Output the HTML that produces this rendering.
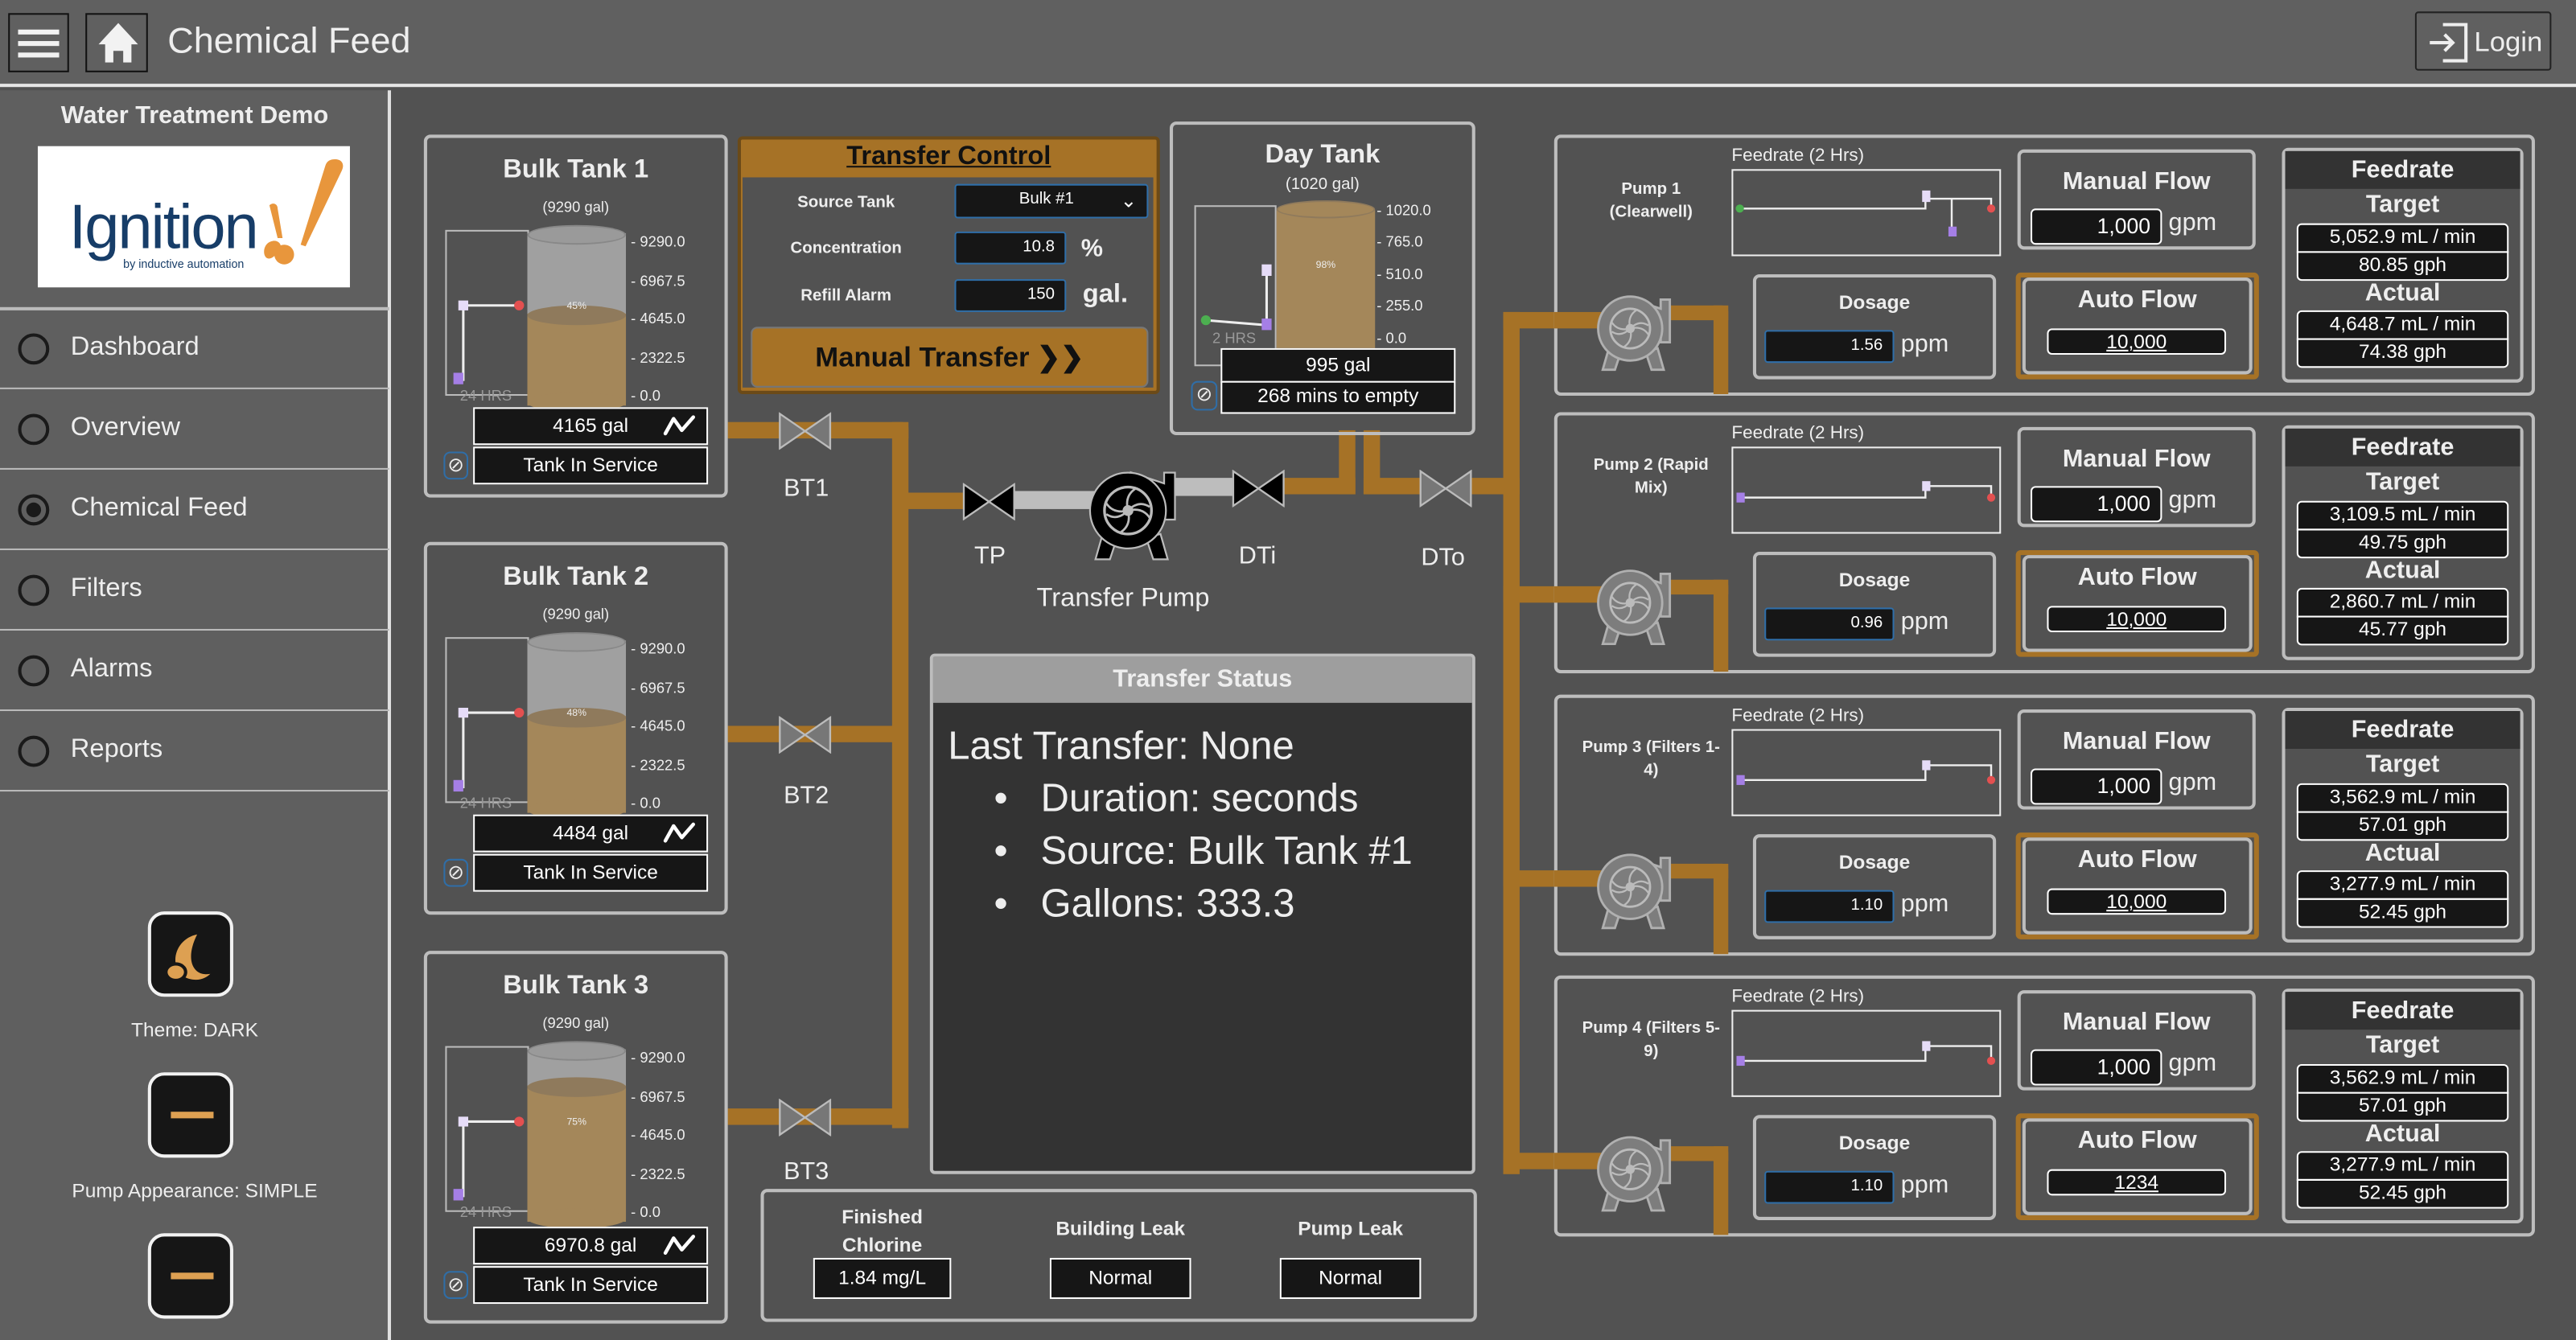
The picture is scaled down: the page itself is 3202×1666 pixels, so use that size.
<!DOCTYPE html>
<html><head><meta charset="utf-8"><style>
*{box-sizing:border-box}
html,body{margin:0;padding:0;width:3202px;height:1666px;overflow:hidden;background:#525252}
#root{position:absolute;left:0;top:0;width:1568px;height:816px;transform-origin:0 0;transform:scale(2.04209,2.04167);font-family:"Liberation Sans",sans-serif;color:#eee;background:#525252}
.a{position:absolute}
.c{text-align:center}
.b{font-weight:bold}
.pipe{position:absolute;background:#a67226}
.gp{position:absolute;background:#bdbdbd}
.panel{position:absolute;border:2px solid #bdbdbd;border-radius:4px}
.box{position:absolute;background:#161616;border:1.5px solid #fff;color:#fff;text-align:center}
.inp{position:absolute;background:#161616;border:1.5px solid #2f6ea8;border-radius:2px;color:#fff;text-align:right;padding-right:6px}
.side-item{position:absolute;left:0;width:237px;height:49px;border-bottom:1.5px solid #bbb;font-size:16px}
.radio{position:absolute;left:11px;top:15px;width:19px;height:19px;border:2px solid #1a1a1a;border-radius:50%}
.sbtn{position:absolute;left:90px;width:52px;height:52px;background:#161616;border:2px solid #f2f2f2;border-radius:10px}
.trend{position:absolute;right:5px;top:3px}
</style></head><body><div id="root">
<svg width="0" height="0" style="position:absolute">
<defs>
<symbol id="valve" viewBox="0 0 34 24"><path d="M1 1 L17 12 L1 23 Z M33 1 L17 12 L33 23 Z" stroke="#bbb" stroke-width="1.2"/></symbol>
<symbol id="pumpg" viewBox="0 0 60 56"><g fill="#7d7d7d" stroke="#b0b0b0" stroke-width="1.5"><path d="M12 40 L8 54 L16 54 L20 42 Z M36 42 L40 54 L48 54 L44 40 Z"/><path d="M28 8 L46 14 L46 8 L52 8 L52 36 L46 36 L46 30 L40 30 Z"/><circle cx="26" cy="27" r="21"/></g><circle cx="26" cy="27" r="13" fill="none" stroke="#bbb" stroke-width="1.5"/><g stroke="#bbb" stroke-width="1.2" fill="none"><path d="M26 27 q-2 -8 4 -12 M26 27 q8 -2 12 4 M26 27 q2 8 -4 12 M26 27 q-8 2 -12 -4 M26 27 q6 -6 12 -2 M26 27 q-6 6 -12 2"/></g><circle cx="26" cy="27" r="3" fill="#bbb"/></symbol>
<symbol id="tr" viewBox="0 0 22 14"><path d="M2 12 L7 3 L12 10 L19 2" fill="none" stroke="#fff" stroke-width="2.2" stroke-linecap="round" stroke-linejoin="round"/></symbol>
</defs></svg>

<!-- header -->
<div class="a" style="left:0;top:0;width:1568px;height:53px;background:#606060;border-bottom:2px solid #e6e6e6"></div>
<div class="a" style="left:5px;top:8px;width:37px;height:36px;border:1.5px solid #111"></div>
<div class="a" style="left:11px;top:18px;width:25px;height:3px;background:#f2f2f2;box-shadow:0 7px 0 #f2f2f2,0 14px 0 #f2f2f2"></div>
<div class="a" style="left:52px;top:8px;width:38px;height:36px;border:1.5px solid #111"></div>
<svg class="a" style="left:58px;top:12px" width="28" height="28" viewBox="0 0 28 28"><path d="M14 2 L2 15 L6 15 L6 26 L11 26 L11 19 L17 19 L17 26 L22 26 L22 15 L26 15 Z" fill="#f2f2f2"/></svg>
<div class="a" style="left:102px;top:12px;font-size:22px;color:#eee">Chemical Feed</div>
<div class="a" style="left:1470px;top:7px;width:83px;height:36px;border:1.5px solid #222;border-radius:2px"></div>
<svg class="a" style="left:1477px;top:13px" width="28" height="26" viewBox="0 0 28 26"><path d="M10 2 H24 V24 H10" fill="none" stroke="#eee" stroke-width="2"/><path d="M2 13 H16 M11 8 L16 13 L11 18" fill="none" stroke="#eee" stroke-width="2"/></svg>
<div class="a" style="left:1506px;top:16px;font-size:17px">Login</div>

<!-- sidebar -->
<div class="a" style="left:0;top:55px;width:238px;height:761px;background:#5f5f5f;border-right:2px solid #e0e0e0"></div>
<div class="a c b" style="left:0;top:62px;width:237px;font-size:15px">Water Treatment Demo</div>
<div class="a" style="left:23px;top:89px;width:190px;height:86px;background:#fff"></div>
<div class="a b" style="left:42px;top:118px;font-size:38px;color:#173d68;letter-spacing:-1px;font-weight:normal">Ignition</div>
<div class="a" style="left:75px;top:158px;font-size:7px;color:#173d68">by inductive automation</div>
<svg class="a" style="left:160px;top:95px" width="50" height="70" viewBox="0 0 50 70"><path d="M44 2 C48 2 50 5 48 9 L26 55 L23 54 L38 6 C39 3 41 2 44 2Z M8 60 C0 68 -2 54 5 52 C10 50 14 56 8 60Z" fill="#e8963c"/><path d="M4 30 C6 28 9 29 9 32 L12 50 L9 50 Z" fill="#e8963c"/><circle cx="13" cy="60" r="6" fill="#e8963c"/></svg>
<div class="a" style="left:0;top:187px;width:237px;height:1.5px;background:#bbb"></div>
<div class="side-item" style="top:188px"><div class="radio"></div><div class="a" style="left:43px;top:15px">Dashboard</div></div>
<div class="side-item" style="top:237px"><div class="radio"></div><div class="a" style="left:43px;top:15px">Overview</div></div>
<div class="side-item" style="top:286px"><div class="radio"><div class="a" style="left:3px;top:3px;width:9px;height:9px;border-radius:50%;background:#1a1a1a"></div></div><div class="a" style="left:43px;top:15px">Chemical Feed</div></div>
<div class="side-item" style="top:335px"><div class="radio"></div><div class="a" style="left:43px;top:15px">Filters</div></div>
<div class="side-item" style="top:384px"><div class="radio"></div><div class="a" style="left:43px;top:15px">Alarms</div></div>
<div class="side-item" style="top:433px"><div class="radio"></div><div class="a" style="left:43px;top:15px">Reports</div></div>
<div class="sbtn" style="top:555px"><svg class="a" style="left:4px;top:6px" width="40" height="40" viewBox="0 0 40 40"><path d="M24 6 C14 8 8 18 12 28 C16 34 26 36 32 30 C22 32 16 22 24 6Z" fill="#dda052"/><ellipse cx="11" cy="29" rx="6" ry="5" fill="#dda052" stroke="#161616" stroke-width="2"/></svg></div>
<div class="a c" style="left:0;top:620px;width:237px;font-size:12px">Theme: DARK</div>
<div class="sbtn" style="top:653px"><div class="a" style="left:12px;top:22px;width:26px;height:4px;background:#dda052"></div></div>
<div class="a c" style="left:0;top:718px;width:237px;font-size:12px">Pump Appearance: SIMPLE</div>
<div class="sbtn" style="top:751px"><div class="a" style="left:12px;top:22px;width:26px;height:4px;background:#dda052"></div></div>

<!-- pipes left -->
<div class="pipe" style="left:443px;top:257px;width:110px;height:10px"></div>
<div class="pipe" style="left:543px;top:257px;width:10px;height:430px;border-radius:0 4px 0 0"></div>
<div class="pipe" style="left:443px;top:442px;width:105px;height:10px"></div>
<div class="pipe" style="left:443px;top:675px;width:110px;height:10px"></div>
<div class="pipe" style="left:548px;top:300px;width:45px;height:10px"></div>
<div class="gp" style="left:615px;top:299px;width:52px;height:11px"></div>
<div class="gp" style="left:715px;top:291px;width:40px;height:11px"></div>
<div class="pipe" style="left:780px;top:291px;width:45px;height:10px"></div>
<div class="pipe" style="left:815px;top:262px;width:10px;height:39px"></div>
<div class="pipe" style="left:830px;top:262px;width:10px;height:39px"></div>
<div class="pipe" style="left:830px;top:291px;width:35px;height:10px"></div>
<div class="pipe" style="left:895px;top:291px;width:30px;height:10px"></div>
<div class="pipe" style="left:915px;top:190px;width:10px;height:525px"></div>
<div class="pipe" style="left:915px;top:190px;width:32px;height:10px"></div>
<div class="pipe" style="left:915px;top:357px;width:32px;height:10px"></div>
<div class="pipe" style="left:915px;top:530px;width:32px;height:10px"></div>
<div class="pipe" style="left:915px;top:702px;width:32px;height:10px"></div>

<!-- valves -->
<svg class="a" style="left:473px;top:251px" width="34" height="23"><use href="#valve" fill="#777"/></svg>
<svg class="a" style="left:473px;top:436px" width="34" height="23"><use href="#valve" fill="#777"/></svg>
<svg class="a" style="left:473px;top:669px" width="34" height="23"><use href="#valve" fill="#777"/></svg>
<svg class="a" style="left:585px;top:294px" width="34" height="23"><use href="#valve" fill="#000"/></svg>
<svg class="a" style="left:749px;top:286px" width="34" height="23"><use href="#valve" fill="#000"/></svg>
<svg class="a" style="left:863px;top:286px" width="34" height="23"><use href="#valve" fill="#777"/></svg>
<div class="a" style="left:477px;top:289px;font-size:15px">BT1</div>
<div class="a" style="left:477px;top:476px;font-size:15px">BT2</div>
<div class="a" style="left:477px;top:705px;font-size:15px">BT3</div>
<div class="a" style="left:593px;top:330px;font-size:15px">TP</div>
<div class="a" style="left:754px;top:330px;font-size:15px">DTi</div>
<div class="a" style="left:865px;top:331px;font-size:15px">DTo</div>
<div class="a" style="left:631px;top:356px;font-size:16px">Transfer Pump</div>
<svg class="a" style="left:658px;top:281px" width="66" height="62" viewBox="0 0 60 56"><g fill="#000" stroke="#bbb" stroke-width="1"><path d="M12 40 L8 54 L16 54 L20 42 Z M36 42 L40 54 L48 54 L44 40 Z"/><path d="M28 6 L46 12 L46 6 L52 6 L52 32 L46 32 L46 28 L40 28 Z"/><circle cx="26" cy="27" r="21"/></g><circle cx="26" cy="27" r="13" fill="none" stroke="#bbb" stroke-width="1.5"/><g stroke="#bbb" stroke-width="1.2" fill="none"><path d="M26 27 q-2 -8 4 -12 M26 27 q8 -2 12 4 M26 27 q2 8 -4 12 M26 27 q-8 2 -12 -4 M26 27 q6 -6 12 -2 M26 27 q-6 6 -12 2"/></g><circle cx="26" cy="27" r="3" fill="#bbb"/></svg>

<!-- Bulk tanks -->
<div class="panel" style="left:258px;top:82px;width:185px;height:221px"></div>
<div class="panel" style="left:258px;top:330px;width:185px;height:227px"></div>
<div class="panel" style="left:258px;top:579px;width:185px;height:227px"></div>

<div class="a" style="left:258px;top:82px;width:185px;height:221px">
 <div class="a c b" style="left:0;top:13px;width:185px;font-size:16px">Bulk Tank 1</div>
 <div class="a c" style="left:0;top:39px;width:185px;font-size:9px">(9290 gal)</div>
 <div class="a" style="left:13px;top:58px;width:51px;height:101px;border:1.5px solid #bbb"></div>
 <svg class="a" style="left:13px;top:58px" width="51" height="101"><path d="M11 92 L11 46 L44 46" stroke="#eee" stroke-width="1.5" fill="none"/><rect x="8" y="43" width="6" height="6" fill="#e6dcf8"/><rect x="5" y="87" width="6" height="7" fill="#a57fe6"/><circle cx="45" cy="46" r="3" fill="#e35050"/></svg>
 <div class="a" style="left:63px;top:60px;width:60px;height:103px;background:#a0a0a0"></div>
 <div class="a" style="left:63px;top:55px;width:60px;height:12px;border-radius:50%;background:#9a9a9a;border:1px solid #888"></div>
 <div class="a" style="left:63px;top:109px;width:60px;height:56px;background:#a4875a"></div>
 <div class="a" style="left:63px;top:104px;width:60px;height:12px;border-radius:50%;background:#8f7a5c"></div>
 <div class="a" style="left:63px;top:157px;width:60px;height:12px;border-radius:50%;background:#a4875a"></div>
 <div class="a c" style="left:63px;top:102px;width:60px;font-size:6px">45%</div>
 <div class="a" style="left:126px;top:54px;font-size:9px;line-height:23.5px">- 9290.0<br>- 6967.5<br>- 4645.0<br>- 2322.5<br>- 0.0</div>
 <div class="a" style="left:22px;top:154px;font-size:9px;color:#999">24 HRS</div>
 <div class="box" style="left:30px;top:166px;width:143px;height:23px;font-size:12px;line-height:20px">4165 gal<svg class="trend" width="22" height="14"><use href="#tr"/></svg></div>
 <div class="box" style="left:30px;top:190px;width:143px;height:23px;font-size:12px;line-height:20px">Tank In Service</div>
 <div class="a" style="left:12px;top:193px;width:15px;height:17px;border:1.5px solid #2f6ea8;border-radius:4px;font-size:12px;line-height:14px;text-align:center">⊘</div>
</div>
<div class="a" style="left:258px;top:330px;width:185px;height:221px">
 <div class="a c b" style="left:0;top:13px;width:185px;font-size:16px">Bulk Tank 2</div>
 <div class="a c" style="left:0;top:39px;width:185px;font-size:9px">(9290 gal)</div>
 <div class="a" style="left:13px;top:58px;width:51px;height:101px;border:1.5px solid #bbb"></div>
 <svg class="a" style="left:13px;top:58px" width="51" height="101"><path d="M11 92 L11 46 L44 46" stroke="#eee" stroke-width="1.5" fill="none"/><rect x="8" y="43" width="6" height="6" fill="#e6dcf8"/><rect x="5" y="87" width="6" height="7" fill="#a57fe6"/><circle cx="45" cy="46" r="3" fill="#e35050"/></svg>
 <div class="a" style="left:63px;top:60px;width:60px;height:103px;background:#a0a0a0"></div>
 <div class="a" style="left:63px;top:55px;width:60px;height:12px;border-radius:50%;background:#9a9a9a;border:1px solid #888"></div>
 <div class="a" style="left:63px;top:106px;width:60px;height:59px;background:#a4875a"></div>
 <div class="a" style="left:63px;top:101px;width:60px;height:12px;border-radius:50%;background:#8f7a5c"></div>
 <div class="a" style="left:63px;top:157px;width:60px;height:12px;border-radius:50%;background:#a4875a"></div>
 <div class="a c" style="left:63px;top:102px;width:60px;font-size:6px">48%</div>
 <div class="a" style="left:126px;top:54px;font-size:9px;line-height:23.5px">- 9290.0<br>- 6967.5<br>- 4645.0<br>- 2322.5<br>- 0.0</div>
 <div class="a" style="left:22px;top:154px;font-size:9px;color:#999">24 HRS</div>
 <div class="box" style="left:30px;top:166px;width:143px;height:23px;font-size:12px;line-height:20px">4484 gal<svg class="trend" width="22" height="14"><use href="#tr"/></svg></div>
 <div class="box" style="left:30px;top:190px;width:143px;height:23px;font-size:12px;line-height:20px">Tank In Service</div>
 <div class="a" style="left:12px;top:193px;width:15px;height:17px;border:1.5px solid #2f6ea8;border-radius:4px;font-size:12px;line-height:14px;text-align:center">⊘</div>
</div>
<div class="a" style="left:258px;top:579px;width:185px;height:221px">
 <div class="a c b" style="left:0;top:13px;width:185px;font-size:16px">Bulk Tank 3</div>
 <div class="a c" style="left:0;top:39px;width:185px;font-size:9px">(9290 gal)</div>
 <div class="a" style="left:13px;top:58px;width:51px;height:101px;border:1.5px solid #bbb"></div>
 <svg class="a" style="left:13px;top:58px" width="51" height="101"><path d="M11 92 L11 46 L44 46" stroke="#eee" stroke-width="1.5" fill="none"/><rect x="8" y="43" width="6" height="6" fill="#e6dcf8"/><rect x="5" y="87" width="6" height="7" fill="#a57fe6"/><circle cx="45" cy="46" r="3" fill="#e35050"/></svg>
 <div class="a" style="left:63px;top:60px;width:60px;height:103px;background:#a0a0a0"></div>
 <div class="a" style="left:63px;top:55px;width:60px;height:12px;border-radius:50%;background:#9a9a9a;border:1px solid #888"></div>
 <div class="a" style="left:63px;top:82px;width:60px;height:83px;background:#a4875a"></div>
 <div class="a" style="left:63px;top:77px;width:60px;height:12px;border-radius:50%;background:#8f7a5c"></div>
 <div class="a" style="left:63px;top:157px;width:60px;height:12px;border-radius:50%;background:#a4875a"></div>
 <div class="a c" style="left:63px;top:102px;width:60px;font-size:6px">75%</div>
 <div class="a" style="left:126px;top:54px;font-size:9px;line-height:23.5px">- 9290.0<br>- 6967.5<br>- 4645.0<br>- 2322.5<br>- 0.0</div>
 <div class="a" style="left:22px;top:154px;font-size:9px;color:#999">24 HRS</div>
 <div class="box" style="left:30px;top:168px;width:143px;height:23px;font-size:12px;line-height:20px">6970.8 gal<svg class="trend" width="22" height="14"><use href="#tr"/></svg></div>
 <div class="box" style="left:30px;top:192px;width:143px;height:23px;font-size:12px;line-height:20px">Tank In Service</div>
 <div class="a" style="left:12px;top:195px;width:15px;height:17px;border:1.5px solid #2f6ea8;border-radius:4px;font-size:12px;line-height:14px;text-align:center">⊘</div>
</div>

<!-- Transfer control -->
<div class="a" style="left:449px;top:83px;width:257px;height:157px;background:#a67226;border:2px solid #6b4a18;border-radius:3px"></div>
<div class="a" style="left:452px;top:108px;width:250px;height:128px;background:#525252"></div>
<div class="a c b" style="left:449px;top:87px;width:257px;font-size:16px;color:#111;text-decoration:underline">Transfer Control</div>
<div class="a c b" style="left:460px;top:118px;width:110px;font-size:10px">Source Tank</div>
<div class="a c b" style="left:460px;top:146px;width:110px;font-size:10px">Concentration</div>
<div class="a c b" style="left:460px;top:175px;width:110px;font-size:10px">Refill Alarm</div>
<div class="inp" style="left:581px;top:112px;width:118px;height:21px;text-align:center;font-size:10px;line-height:18px">Bulk #1<span class="a" style="right:6px;top:0;font-size:12px">⌄</span></div>
<div class="inp" style="left:581px;top:141px;width:68px;height:20px;font-size:10px;line-height:17px">10.8</div>
<div class="inp" style="left:581px;top:170px;width:68px;height:20px;font-size:10px;line-height:17px">150</div>
<div class="a b" style="left:658px;top:143px;font-size:15px">%</div>
<div class="a b" style="left:659px;top:171px;font-size:16px">gal.</div>
<div class="a c b" style="left:457px;top:199px;width:242px;height:37px;background:#a67226;border:1.5px solid #777;border-radius:4px;font-size:17px;color:#111;line-height:36px">Manual Transfer ❯❯</div>

<!-- Day tank -->
<div class="panel" style="left:712px;top:74px;width:186px;height:191px"></div>
<div class="a c b" style="left:712px;top:86px;width:186px;font-size:16px">Day Tank</div>
<div class="a c" style="left:712px;top:107px;width:186px;font-size:10px">(1020 gal)</div>
<div class="a" style="left:727px;top:125px;width:50px;height:98px;border:1.5px solid #bbb"></div>
<svg class="a" style="left:727px;top:125px" width="50" height="98"><path d="M7 70 L44 73 L44 40" stroke="#eee" stroke-width="1.5" fill="none"/><circle cx="7" cy="70" r="3" fill="#4caf50"/><rect x="41" y="69" width="6" height="7" fill="#a57fe6"/><rect x="41" y="36" width="6" height="7" fill="#e6dcf8"/></svg>
<div class="a" style="left:777px;top:128px;width:60px;height:97px;background:#a4875a"></div>
<div class="a" style="left:777px;top:122px;width:60px;height:11px;border-radius:50%;background:#a4875a;border:1px solid #8f7a5c"></div>
<div class="a" style="left:777px;top:219px;width:60px;height:11px;border-radius:50%;background:#a4875a"></div>
<div class="a c" style="left:777px;top:159px;width:60px;font-size:6px">98%</div>
<div class="a" style="left:838px;top:119px;font-size:9px;line-height:19.4px">- 1020.0<br>- 765.0<br>- 510.0<br>- 255.0<br>- 0.0</div>
<div class="a" style="left:738px;top:201px;font-size:9px;color:#999">2 HRS</div>
<div class="box" style="left:743px;top:212px;width:143px;height:21px;font-size:12px;line-height:18px">995 gal</div>
<div class="box" style="left:743px;top:232px;width:143px;height:20px;font-size:12px;line-height:17px">268 mins to empty</div>
<div class="a" style="left:725px;top:232px;width:16px;height:18px;border:1.5px solid #2f6ea8;border-radius:4px;font-size:12px;line-height:15px;text-align:center">⊘</div>

<!-- Transfer status -->
<div class="a" style="left:566px;top:398px;width:332px;height:317px;background:#333;border:2px solid #bdbdbd;border-radius:3px"></div>
<div class="a c b" style="left:568px;top:400px;width:328px;height:28px;background:#9e9e9e;font-size:15px;line-height:28px">Transfer Status</div>
<div class="a" style="left:577px;top:439px;font-size:24px;line-height:32px">Last Transfer: None</div>
<div class="a" style="left:605px;top:471px;font-size:24px;line-height:32px">•&nbsp;&nbsp;&nbsp;Duration: seconds<br>•&nbsp;&nbsp;&nbsp;Source: Bulk Tank #1<br>•&nbsp;&nbsp;&nbsp;Gallons: 333.3</div>

<!-- bottom status -->
<div class="panel" style="left:463px;top:724px;width:436px;height:81px"></div>
<div class="a c b" style="left:487px;top:733px;width:100px;font-size:12px;line-height:17px">Finished<br>Chlorine</div>
<div class="box" style="left:495px;top:766px;width:84px;height:25px;font-size:12px;line-height:22px">1.84 mg/L</div>
<div class="a c b" style="left:622px;top:741px;width:120px;font-size:12px">Building Leak</div>
<div class="box" style="left:639px;top:766px;width:86px;height:25px;font-size:12px;line-height:22px">Normal</div>
<div class="a c b" style="left:762px;top:741px;width:120px;font-size:12px">Pump Leak</div>
<div class="box" style="left:779px;top:766px;width:86px;height:25px;font-size:12px;line-height:22px">Normal</div>

<!-- Pump panels -->
<div class="a" style="left:946px;top:82px;width:597px;height:159px">
 <div class="panel" style="left:0;top:0;width:597px;height:159px"></div>
 <div class="pipe" style="left:0;top:108px;width:30px;height:10px"></div>
 <div class="pipe" style="left:70px;top:104px;width:36px;height:9px;border-radius:0 4px 0 0"></div>
 <div class="pipe" style="left:97px;top:104px;width:9px;height:54px"></div>
 <svg class="a" style="left:22px;top:93px" width="56" height="52"><use href="#pumpg"/></svg>
 <div class="a c b" style="left:14px;top:27px;width:90px;font-size:10px;line-height:14px">Pump 1<br>(Clearwell)</div>
 <div class="a" style="left:108px;top:7px;font-size:11px">Feedrate (2 Hrs)</div>
 <div class="a" style="left:108px;top:21px;width:164px;height:53px;border:1.5px solid #eee"></div>
 <svg class="a" style="left:108px;top:21px" width="164" height="53"><path d="M5 24 L118 24 L118 18 L134 18 L134 38 M134 18 L158 18 L158 24" stroke="#eee" stroke-width="1.2" fill="none"/><circle cx="5" cy="24" r="2.5" fill="#4caf50"/><circle cx="158" cy="24" r="2.5" fill="#e35050"/><rect x="116" y="13" width="5" height="7" fill="#e6dcf8"/><rect x="132" y="35" width="5" height="6" fill="#a57fe6"/></svg>
 <div class="panel" style="left:282px;top:9px;width:145px;height:61px"></div>
 <div class="a c b" style="left:282px;top:20px;width:145px;font-size:15px">Manual Flow</div>
 <div class="box" style="left:290px;top:45px;width:80px;height:22px;border-radius:3px;text-align:right;padding-right:6px;font-size:13px;line-height:19px">1,000</div>
 <div class="a" style="left:374px;top:45px;font-size:15px">gpm</div>
 <div class="panel" style="left:443px;top:8px;width:147px;height:143px"></div>
 <div class="a c b" style="left:445px;top:10px;width:143px;height:23px;background:#333;font-size:15px;line-height:23px">Feedrate</div>
 <div class="a c b" style="left:445px;top:34px;width:143px;font-size:15px">Target</div>
 <div class="box" style="left:452px;top:54px;width:129px;height:18px;border-radius:3px 3px 0 0;font-size:12px;line-height:15px">5,052.9 mL / min</div>
 <div class="box" style="left:452px;top:71px;width:129px;height:18px;border-radius:0 0 3px 3px;font-size:12px;line-height:15px">80.85 gph</div>
 <div class="a c b" style="left:445px;top:88px;width:143px;font-size:15px">Actual</div>
 <div class="box" style="left:452px;top:107px;width:129px;height:18px;border-radius:3px 3px 0 0;font-size:12px;line-height:15px">4,648.7 mL / min</div>
 <div class="box" style="left:452px;top:124px;width:129px;height:18px;border-radius:0 0 3px 3px;font-size:12px;line-height:15px">74.38 gph</div>
 <div class="panel" style="left:121px;top:85px;width:148px;height:64px"></div>
 <div class="a c b" style="left:121px;top:95px;width:148px;font-size:12px">Dosage</div>
 <div class="inp" style="left:128px;top:119px;width:79px;height:20px;font-size:10px;line-height:17px">1.56</div>
 <div class="a" style="left:211px;top:119px;font-size:15px">ppm</div>
 <div class="a" style="left:281px;top:84px;width:148px;height:65px;border:3px solid #a67226;border-radius:3px"></div>
 <div class="panel" style="left:285px;top:87px;width:140px;height:59px"></div>
 <div class="a c b" style="left:281px;top:92px;width:148px;font-size:15px">Auto Flow</div>
 <div class="box" style="left:300px;top:118px;width:109px;height:16px;border-radius:3px;font-size:12px;line-height:14px;text-decoration:underline">10,000</div>
</div>

<div class="a" style="left:946px;top:251px;width:597px;height:159px">
 <div class="panel" style="left:0;top:0;width:597px;height:159px"></div>
 <div class="pipe" style="left:0;top:106px;width:30px;height:10px"></div>
 <div class="pipe" style="left:70px;top:102px;width:36px;height:9px;border-radius:0 4px 0 0"></div>
 <div class="pipe" style="left:97px;top:102px;width:9px;height:56px"></div>
 <svg class="a" style="left:22px;top:91px" width="56" height="52"><use href="#pumpg"/></svg>
 <div class="a c b" style="left:14px;top:26px;width:90px;font-size:10px;line-height:14px">Pump 2 (Rapid<br>Mix)</div>
 <div class="a" style="left:108px;top:7px;font-size:11px">Feedrate (2 Hrs)</div>
 <div class="a" style="left:108px;top:21px;width:164px;height:53px;border:1.5px solid #eee"></div>
 <svg class="a" style="left:108px;top:21px" width="164" height="53"><path d="M5 31 L118 31 L118 24 L158 24 L158 31" stroke="#eee" stroke-width="1.2" fill="none"/><rect x="3" y="28" width="5" height="6" fill="#a57fe6"/><circle cx="158" cy="31" r="2.5" fill="#e35050"/><rect x="116" y="21" width="5" height="6" fill="#e6dcf8"/></svg>
 <div class="panel" style="left:282px;top:9px;width:145px;height:61px"></div>
 <div class="a c b" style="left:282px;top:20px;width:145px;font-size:15px">Manual Flow</div>
 <div class="box" style="left:290px;top:45px;width:80px;height:22px;border-radius:3px;text-align:right;padding-right:6px;font-size:13px;line-height:19px">1,000</div>
 <div class="a" style="left:374px;top:45px;font-size:15px">gpm</div>
 <div class="panel" style="left:443px;top:8px;width:147px;height:143px"></div>
 <div class="a c b" style="left:445px;top:10px;width:143px;height:23px;background:#333;font-size:15px;line-height:23px">Feedrate</div>
 <div class="a c b" style="left:445px;top:34px;width:143px;font-size:15px">Target</div>
 <div class="box" style="left:452px;top:54px;width:129px;height:18px;border-radius:3px 3px 0 0;font-size:12px;line-height:15px">3,109.5 mL / min</div>
 <div class="box" style="left:452px;top:71px;width:129px;height:18px;border-radius:0 0 3px 3px;font-size:12px;line-height:15px">49.75 gph</div>
 <div class="a c b" style="left:445px;top:88px;width:143px;font-size:15px">Actual</div>
 <div class="box" style="left:452px;top:107px;width:129px;height:18px;border-radius:3px 3px 0 0;font-size:12px;line-height:15px">2,860.7 mL / min</div>
 <div class="box" style="left:452px;top:124px;width:129px;height:18px;border-radius:0 0 3px 3px;font-size:12px;line-height:15px">45.77 gph</div>
 <div class="panel" style="left:121px;top:85px;width:148px;height:64px"></div>
 <div class="a c b" style="left:121px;top:95px;width:148px;font-size:12px">Dosage</div>
 <div class="inp" style="left:128px;top:119px;width:79px;height:20px;font-size:10px;line-height:17px">0.96</div>
 <div class="a" style="left:211px;top:119px;font-size:15px">ppm</div>
 <div class="a" style="left:281px;top:84px;width:148px;height:65px;border:3px solid #a67226;border-radius:3px"></div>
 <div class="panel" style="left:285px;top:87px;width:140px;height:59px"></div>
 <div class="a c b" style="left:281px;top:92px;width:148px;font-size:15px">Auto Flow</div>
 <div class="box" style="left:300px;top:118px;width:109px;height:16px;border-radius:3px;font-size:12px;line-height:14px;text-decoration:underline">10,000</div>
</div>

<div class="a" style="left:946px;top:423px;width:597px;height:159px">
 <div class="panel" style="left:0;top:0;width:597px;height:159px"></div>
 <div class="pipe" style="left:0;top:107px;width:30px;height:10px"></div>
 <div class="pipe" style="left:70px;top:103px;width:36px;height:9px;border-radius:0 4px 0 0"></div>
 <div class="pipe" style="left:97px;top:103px;width:9px;height:55px"></div>
 <svg class="a" style="left:22px;top:92px" width="56" height="52"><use href="#pumpg"/></svg>
 <div class="a c b" style="left:10px;top:26px;width:98px;font-size:10px;line-height:14px">Pump 3 (Filters 1-<br>4)</div>
 <div class="a" style="left:108px;top:7px;font-size:11px">Feedrate (2 Hrs)</div>
 <div class="a" style="left:108px;top:21px;width:164px;height:53px;border:1.5px solid #eee"></div>
 <svg class="a" style="left:108px;top:21px" width="164" height="53"><path d="M5 31 L118 31 L118 22 L158 22 L158 31" stroke="#eee" stroke-width="1.2" fill="none"/><rect x="3" y="28" width="5" height="6" fill="#a57fe6"/><circle cx="158" cy="31" r="2.5" fill="#e35050"/><rect x="116" y="19" width="5" height="6" fill="#e6dcf8"/></svg>
 <div class="panel" style="left:282px;top:9px;width:145px;height:61px"></div>
 <div class="a c b" style="left:282px;top:20px;width:145px;font-size:15px">Manual Flow</div>
 <div class="box" style="left:290px;top:45px;width:80px;height:22px;border-radius:3px;text-align:right;padding-right:6px;font-size:13px;line-height:19px">1,000</div>
 <div class="a" style="left:374px;top:45px;font-size:15px">gpm</div>
 <div class="panel" style="left:443px;top:8px;width:147px;height:143px"></div>
 <div class="a c b" style="left:445px;top:10px;width:143px;height:23px;background:#333;font-size:15px;line-height:23px">Feedrate</div>
 <div class="a c b" style="left:445px;top:34px;width:143px;font-size:15px">Target</div>
 <div class="box" style="left:452px;top:54px;width:129px;height:18px;border-radius:3px 3px 0 0;font-size:12px;line-height:15px">3,562.9 mL / min</div>
 <div class="box" style="left:452px;top:71px;width:129px;height:18px;border-radius:0 0 3px 3px;font-size:12px;line-height:15px">57.01 gph</div>
 <div class="a c b" style="left:445px;top:88px;width:143px;font-size:15px">Actual</div>
 <div class="box" style="left:452px;top:107px;width:129px;height:18px;border-radius:3px 3px 0 0;font-size:12px;line-height:15px">3,277.9 mL / min</div>
 <div class="box" style="left:452px;top:124px;width:129px;height:18px;border-radius:0 0 3px 3px;font-size:12px;line-height:15px">52.45 gph</div>
 <div class="panel" style="left:121px;top:85px;width:148px;height:64px"></div>
 <div class="a c b" style="left:121px;top:95px;width:148px;font-size:12px">Dosage</div>
 <div class="inp" style="left:128px;top:119px;width:79px;height:20px;font-size:10px;line-height:17px">1.10</div>
 <div class="a" style="left:211px;top:119px;font-size:15px">ppm</div>
 <div class="a" style="left:281px;top:84px;width:148px;height:65px;border:3px solid #a67226;border-radius:3px"></div>
 <div class="panel" style="left:285px;top:87px;width:140px;height:59px"></div>
 <div class="a c b" style="left:281px;top:92px;width:148px;font-size:15px">Auto Flow</div>
 <div class="box" style="left:300px;top:118px;width:109px;height:16px;border-radius:3px;font-size:12px;line-height:14px;text-decoration:underline">10,000</div>
</div>

<div class="a" style="left:946px;top:594px;width:597px;height:159px">
 <div class="panel" style="left:0;top:0;width:597px;height:159px"></div>
 <div class="pipe" style="left:0;top:108px;width:30px;height:10px"></div>
 <div class="pipe" style="left:70px;top:104px;width:36px;height:9px;border-radius:0 4px 0 0"></div>
 <div class="pipe" style="left:97px;top:104px;width:9px;height:54px"></div>
 <svg class="a" style="left:22px;top:93px" width="56" height="52"><use href="#pumpg"/></svg>
 <div class="a c b" style="left:10px;top:26px;width:98px;font-size:10px;line-height:14px">Pump 4 (Filters 5-<br>9)</div>
 <div class="a" style="left:108px;top:7px;font-size:11px">Feedrate (2 Hrs)</div>
 <div class="a" style="left:108px;top:21px;width:164px;height:53px;border:1.5px solid #eee"></div>
 <svg class="a" style="left:108px;top:21px" width="164" height="53"><path d="M5 31 L118 31 L118 22 L158 22 L158 31" stroke="#eee" stroke-width="1.2" fill="none"/><rect x="3" y="28" width="5" height="6" fill="#a57fe6"/><circle cx="158" cy="31" r="2.5" fill="#e35050"/><rect x="116" y="19" width="5" height="6" fill="#e6dcf8"/></svg>
 <div class="panel" style="left:282px;top:9px;width:145px;height:61px"></div>
 <div class="a c b" style="left:282px;top:20px;width:145px;font-size:15px">Manual Flow</div>
 <div class="box" style="left:290px;top:45px;width:80px;height:22px;border-radius:3px;text-align:right;padding-right:6px;font-size:13px;line-height:19px">1,000</div>
 <div class="a" style="left:374px;top:45px;font-size:15px">gpm</div>
 <div class="panel" style="left:443px;top:8px;width:147px;height:143px"></div>
 <div class="a c b" style="left:445px;top:10px;width:143px;height:23px;background:#333;font-size:15px;line-height:23px">Feedrate</div>
 <div class="a c b" style="left:445px;top:34px;width:143px;font-size:15px">Target</div>
 <div class="box" style="left:452px;top:54px;width:129px;height:18px;border-radius:3px 3px 0 0;font-size:12px;line-height:15px">3,562.9 mL / min</div>
 <div class="box" style="left:452px;top:71px;width:129px;height:18px;border-radius:0 0 3px 3px;font-size:12px;line-height:15px">57.01 gph</div>
 <div class="a c b" style="left:445px;top:88px;width:143px;font-size:15px">Actual</div>
 <div class="box" style="left:452px;top:107px;width:129px;height:18px;border-radius:3px 3px 0 0;font-size:12px;line-height:15px">3,277.9 mL / min</div>
 <div class="box" style="left:452px;top:124px;width:129px;height:18px;border-radius:0 0 3px 3px;font-size:12px;line-height:15px">52.45 gph</div>
 <div class="panel" style="left:121px;top:85px;width:148px;height:64px"></div>
 <div class="a c b" style="left:121px;top:95px;width:148px;font-size:12px">Dosage</div>
 <div class="inp" style="left:128px;top:119px;width:79px;height:20px;font-size:10px;line-height:17px">1.10</div>
 <div class="a" style="left:211px;top:119px;font-size:15px">ppm</div>
 <div class="a" style="left:281px;top:84px;width:148px;height:65px;border:3px solid #a67226;border-radius:3px"></div>
 <div class="panel" style="left:285px;top:87px;width:140px;height:59px"></div>
 <div class="a c b" style="left:281px;top:92px;width:148px;font-size:15px">Auto Flow</div>
 <div class="box" style="left:300px;top:118px;width:109px;height:16px;border-radius:3px;font-size:12px;line-height:14px;text-decoration:underline">1234</div>
</div>

</div></body></html>
